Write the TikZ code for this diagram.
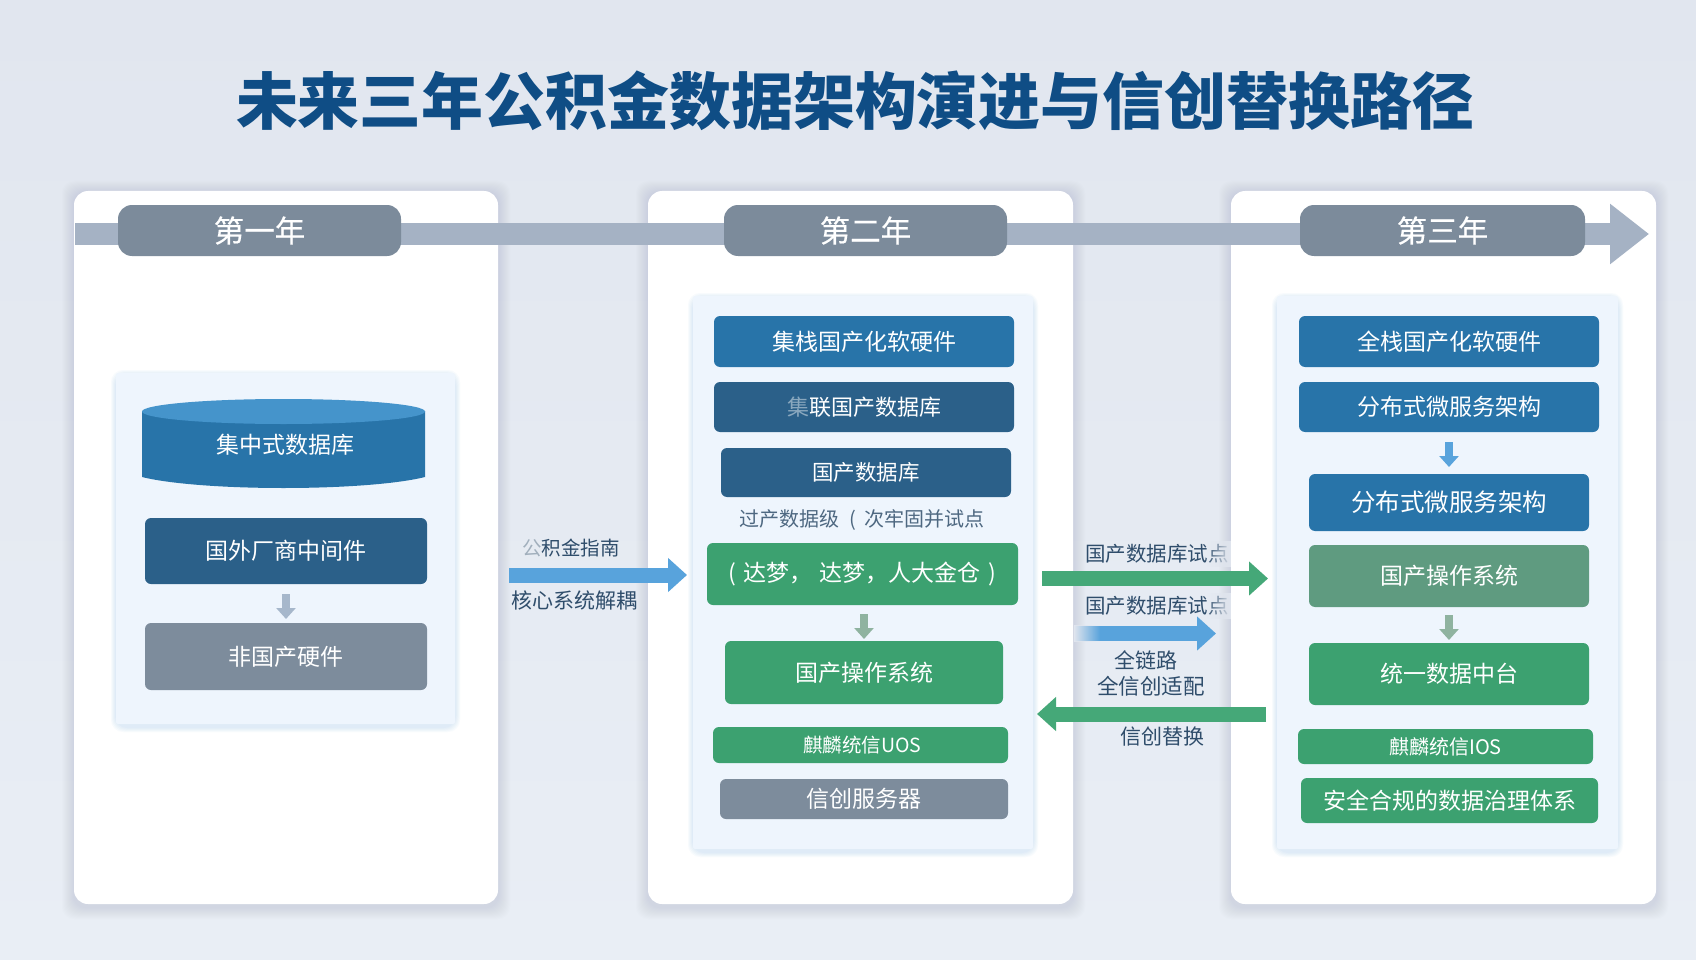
\documentclass[tikz,border=0pt]{standalone}
\usepackage{fontspec}
\setmainfont{Noto Sans CJK SC}
\newfontfamily\medfont[FakeBold=0.35]{Noto Sans CJK SC}
\usetikzlibrary{arrows.meta,fadings,calc}
\definecolor{bgtop}{HTML}{E1E6EF}
\definecolor{bgbot}{HTML}{E9EEF5}
\definecolor{gapbg}{HTML}{E0E5EE}
\definecolor{titlec}{HTML}{0F4D85}
\definecolor{bandc}{HTML}{A5B2C4}
\definecolor{pillc}{HTML}{7C8B9B}
\definecolor{panelc}{HTML}{EEF5FD}
\definecolor{bluec}{HTML}{2874A9}
\definecolor{darkc}{HTML}{2B6089}
\definecolor{greenc}{HTML}{3CA170}
\definecolor{sagec}{HTML}{5F9B80}
\definecolor{grayc}{HTML}{7D8C9C}
\definecolor{cyltop}{HTML}{4594CB}
\definecolor{arrblue}{HTML}{58A3DC}
\definecolor{arrgreen}{HTML}{45A878}
\definecolor{dngray}{HTML}{A6B7CB}
\definecolor{dnsage}{HTML}{8FB3A0}
\definecolor{labelc}{HTML}{2F4D6B}
\definecolor{softblue}{HTML}{7FB2E6}
\definecolor{softgray}{HTML}{8A9BB5}
\tikzset{
  boxbase/.style={rounded corners=6pt,inner sep=0pt,outer sep=0pt,text=white,font=\fontsize{23}{27}\selectfont},
  bluebox/.style={boxbase,fill=bluec},
  darkbox/.style={boxbase,fill=darkc},
  greenbox/.style={boxbase,fill=greenc},
  sagebox/.style={boxbase,fill=sagec},
  graybox/.style={boxbase,fill=grayc},
  pillbox/.style={boxbase,fill=pillc,rounded corners=14pt,font=\medfont\fontsize{30.5}{34}\selectfont},
  lab/.style={text=labelc,inner sep=0pt,font=\fontsize{21}{25}\selectfont},
  dn/.style={line width=8pt,-{Triangle[length=11pt,width=19pt]}},
  blockarrow/.style={line width=15pt,-{Triangle[length=19pt,width=33pt]}},
}
\newcommand{\rbox}[7]{%
  \node[#6,minimum width={(#4-#2)*1pt},minimum height={(#5-#3)*1pt}] (#1) at ({(#2+#4)/2},{(#3+#5)/2}) {#7};}
\newcommand{\softsh}[7]{%
  \foreach \i in {1,...,#6} {\fill[#5,opacity=#7,rounded corners=12pt] ({#1-\i},{#2-\i+2}) rectangle ({#3+\i},{#4+\i+3});}}
\newcommand{\cardpanel}[4]{%
  \softsh{#1}{#2}{#3}{#4}{softgray}{12}{0.018}\fill[white,rounded corners=14pt] (#1,#2) rectangle (#3,#4);}
\newcommand{\innerpanel}[4]{%
  \softsh{#1}{#2}{#3}{#4}{softblue}{5}{0.05}\fill[panelc,rounded corners=2pt] (#1,#2) rectangle (#3,#4);}
\begin{document}
\begin{tikzpicture}[x=1pt,y=-1pt]
\useasboundingbox (0,0) rectangle (1696,960);
\shade[top color=bgtop,bottom color=bgbot] (0,0) rectangle (1696,960);
\node[text=titlec,inner sep=0pt,font=\bfseries\fontsize{61.9}{70}\selectfont] (title) at (855,101) {未来三年公积金数据架构演进与信创替换路径};
% cards
\cardpanel{74}{191}{498}{904}
\cardpanel{648}{191}{1073}{904}
\cardpanel{1231}{191}{1656}{904}
% timeline band
\coordinate (bandstart) at (75,234);
\coordinate (bandend) at (1649,234);
\draw[bandc,line width=22pt,-{Triangle[length=39pt,width=58pt]}] (bandstart) -- (bandend);
\rbox{y1}{118}{205}{401}{256}{pillbox}{\raisebox{-2pt}{第一年}}
\rbox{y2}{724}{205}{1007}{256}{pillbox}{\raisebox{-2pt}{第二年}}
\rbox{y3}{1300}{205}{1585}{256}{pillbox}{\raisebox{-2pt}{第三年}}
% panels
\innerpanel{116}{373}{455}{724}
\innerpanel{693}{296}{1033}{849}
\innerpanel{1277}{296}{1618}{849}
% year one
\fill[bluec] (142,411) -- (142,477) .. controls (170,484) and (225,488) .. (283.5,488) .. controls (342,488) and (397,484) .. (425,477) -- (425,411) -- cycle;
\fill[cyltop] (283.5,411.5) ellipse[x radius=141.5,y radius=12.5];
\node[text=white,inner sep=0pt,font=\fontsize{23}{27}\selectfont] (cyl) at (285,445) {集中式数据库};
\rbox{a2}{145}{518}{427}{584}{darkbox}{国外厂商中间件}
\rbox{a3}{145}{623}{427}{690}{graybox}{非国产硬件}
\draw[dn,dngray,shorten <=10pt,shorten >=4pt] (a2.south -| 286,0) -- (a3.north -| 286,0);
% year two
\rbox{b1}{714}{316}{1014}{367}{bluebox}{集栈国产化软硬件}
\rbox{b2}{714}{382}{1014}{432}{darkbox}{\fontsize{22}{26}\selectfont{\color{white!45!darkc}集}联国产数据库}
\rbox{b3}{721}{448}{1011}{497}{darkbox}{\fontsize{21.5}{26}\selectfont 国产数据库}
\node[lab,font=\fontsize{20}{24}\selectfont,text=labelc!85!white] (b3t) at (862,520) {过产数据级\hspace{10pt}(\hspace{8pt}次牢固并试点};
\rbox{b4}{707}{543}{1018}{605}{greenbox}{(\hspace{7pt}达梦，\hspace{7pt}达梦，人大金仓\hspace{8pt})}
\rbox{b5}{725}{641}{1003}{704}{greenbox}{国产操作系统}
\rbox{b6}{713}{727}{1008}{763}{greenbox}{\hspace{4pt}\fontsize{19.5}{24}\selectfont 麒麟统信UOS}
\rbox{b7}{720}{779}{1008}{819}{graybox}{信创服务器}
\draw[dn,dnsage,shorten <=9pt,shorten >=2pt] (b4.south -| 864,0) -- (b5.north -| 864,0);
% year three
\rbox{c1}{1299}{316}{1599}{367}{bluebox}{全栈国产化软硬件}
\rbox{c2}{1299}{382}{1599}{432}{bluebox}{分布式微服务架构}
\rbox{c3}{1309}{474}{1589}{531}{bluebox}{\fontsize{24.5}{29}\selectfont 分布式微服务架构}
\rbox{c4}{1309}{545}{1589}{607}{sagebox}{国产操作系统}
\rbox{c5}{1309}{643}{1589}{705}{greenbox}{统一数据中台}
\rbox{c6}{1298}{729}{1593}{764}{greenbox}{\fontsize{20}{24}\selectfont 麒麟统信IOS}
\rbox{c7}{1301}{778}{1598}{823}{greenbox}{安全合规的数据治理体系}
\draw[dn,arrblue,shorten <=10pt,shorten >=7pt] (c2.south -| 1449,0) -- (c3.north -| 1449,0);
\draw[dn,dnsage,shorten <=8pt,shorten >=3pt] (c4.south -| 1449,0) -- (c5.north -| 1449,0);
% between one and two
\coordinate (p1) at (509,575);
\coordinate (p2) at (687,575);
\draw[blockarrow,arrblue] (p1) -- (p2);
\node[lab,font=\fontsize{19.5}{24}\selectfont] (l1) at (571,548) {{\color{labelc!45!white}公}积金指南};
\node[lab] (l2) at (574,601) {核心系统解耦};
% between two and three
\coordinate (q1) at (1042,578.5);
\coordinate (q2) at (1268,578.5);
\draw[blockarrow,arrgreen] (q1) -- (q2);
\node[lab,font=\fontsize{20.5}{25}\selectfont] (l3) at (1157,554) {国产数据库试点};
\node[lab,font=\fontsize{20.5}{25}\selectfont] (l4) at (1157,606) {国产数据库试点};
\fill[gapbg,path fading=west] (1206,541) rectangle (1231,567);
\fill[gapbg,path fading=west] (1206,593) rectangle (1231,619);
\coordinate (r1) at (1075,633.5);
\coordinate (r2) at (1216,633.5);
\draw[blockarrow,arrblue] (r1) -- (r2);
\fill[gapbg,path fading=east] (1074,625) rectangle (1100,642);
\node[lab] (l5) at (1146,660) {全链路};
\node[lab,font=\fontsize{21.5}{25}\selectfont] (l6) at (1151,686) {全信创适配};
\coordinate (s1) at (1266,714);
\coordinate (s2) at (1037,714);
\draw[blockarrow,arrgreen] (s1) -- (s2);
\node[lab] (l7) at (1162,737) {信创替换};
\end{tikzpicture}
\end{document}
